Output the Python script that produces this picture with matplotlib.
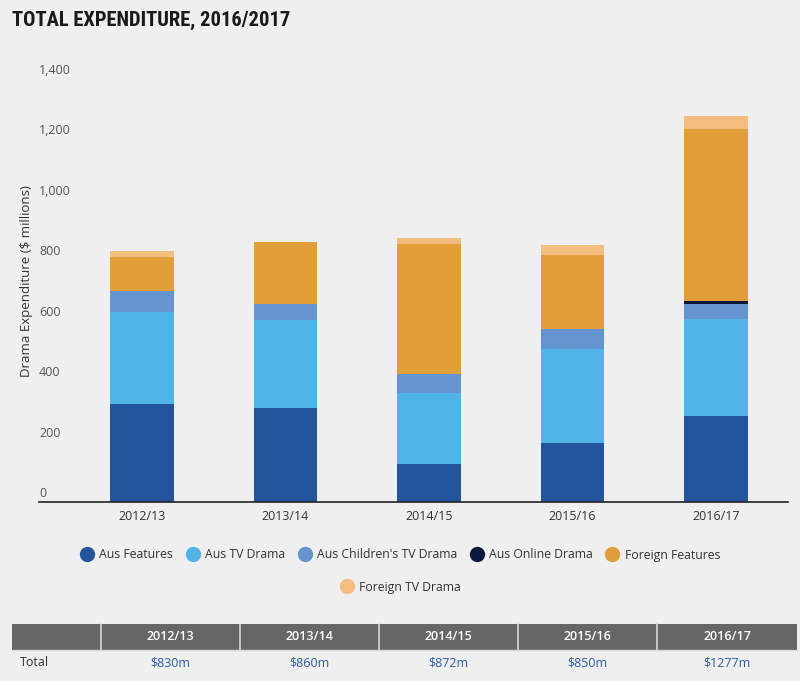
import numpy as np
import matplotlib.pyplot as plt
from matplotlib.lines import Line2D
from matplotlib.patches import Rectangle

years = ["2012/13", "2013/14", "2014/15", "2015/16", "2016/17"]
aus_features = [323, 310, 125, 194, 283]
aus_tv_drama = [306, 292, 235, 311, 322]
aus_children = [69, 54, 63, 66, 49]
aus_online = [0, 0, 0, 0, 11]
foreign_features = [111, 202, 430, 247, 568]
foreign_tv = [21, 2, 19, 32, 44]
totals = ["$830m", "$860m", "$872m", "$850m", "$1277m"]

series = [
    ("Aus Features", aus_features, "#22559c"),
    ("Aus TV Drama", aus_tv_drama, "#50b4e6"),
    ("Aus Children's TV Drama", aus_children, "#6495d0"),
    ("Aus Online Drama", aus_online, "#0b1a3a"),
    ("Foreign Features", foreign_features, "#e29e38"),
    ("Foreign TV Drama", foreign_tv, "#f3bd80"),
]
yticks = [0, 200, 400, 600, 800, 1000, 1200, 1400]

bg = "#efefef"
plt.rcParams['font.family'] = ['Open Sans', 'DejaVu Sans']

W, H = 800, 681
fig = plt.figure(figsize=(8, 6.81), dpi=100, facecolor=bg)

# plot area in pixels: x 39..788, y 0 at 502
ax = fig.add_axes([39 / W, 1 - 502 / H, (788 - 39) / W, (502 - 63.4) / H])
ax.set_facecolor(bg)

x = np.arange(len(years))
bottom = np.zeros(len(years))
for name, vals, col in series:
    v = np.array(vals, dtype=float)
    ax.bar(x, v, 0.44, bottom=bottom, color=col, edgecolor='none')
    bottom += v

ax.set_xlim(-0.718, 4.502)
ax.set_ylim(0, 1450)
for s in ["top", "right", "left"]:
    ax.spines[s].set_visible(False)
ax.spines["bottom"].set_color("#222222")
ax.spines["bottom"].set_linewidth(1.2)
ax.set_yticks([])
ax.set_xticks(x)
ax.set_xticklabels(years, fontsize=9, color="#333333")
ax.tick_params(axis='x', length=0, pad=6)

for t in yticks:
    ax.annotate(f"{t:,}", xy=(0, t), xycoords=('axes fraction', 'data'),
                xytext=(0, 6), textcoords='offset points',
                ha='left', va='center', fontsize=9, color="#555555")

fig.text(27 / W, 1 - 281 / H, "Drama Expenditure ($ millions)", rotation=90,
         ha='center', va='center', fontsize=9.5, color="#333333")

fig.text(12 / W, 1 - 20 / H, "TOTAL EXPENDITURE, 2016/2017",
         family=['DejaVu Sans Condensed', 'Liberation Sans Narrow', 'Roboto Condensed', 'Roboto'],
         fontweight='bold', fontstretch='condensed',
         fontsize=14.8, color="#1a1a1a", ha='left', va='center')

handles = [Line2D([], [], marker='o', linestyle='none', markersize=10,
                  markerfacecolor=col, markeredgecolor=col, label=name)
           for name, vals, col in series]
leg1 = fig.legend(handles=handles[:5], loc='center', bbox_to_anchor=(400 / W, 1 - 555 / H),
                  ncol=5, frameon=False, fontsize=8.8, handletextpad=0.4,
                  columnspacing=1.0, handlelength=1.2)
for t in leg1.get_texts():
    t.set_color("#333333")
leg2 = fig.legend(handles=handles[5:], loc='center', bbox_to_anchor=(400 / W, 1 - 587 / H),
                  ncol=1, frameon=False, fontsize=8.8, handletextpad=0.4,
                  handlelength=1.2)
for t in leg2.get_texts():
    t.set_color("#333333")

# summary table
tab = fig.add_axes([0, 0, 1, 1], zorder=-1)
tab.set_xlim(0, W)
tab.set_ylim(H, 0)
tab.axis('off')
bounds = [12, 101, 240, 379, 518, 657, 797]
tab.add_patch(Rectangle((12, 624), 797 - 12, 26, facecolor="#666666", edgecolor='none'))
for b in bounds[1:-1]:
    tab.plot([b, b], [624, 650], color="#d8d8d8", lw=1.2)
tab.plot([12, 797], [650, 650], color="#d8d8d8", lw=1)
for i, yr in enumerate(years):
    cx = (bounds[i + 1] + bounds[i + 2]) / 2
    tab.text(cx, 637, yr, ha='center', va='center', fontsize=9,
             color="white", fontweight='semibold')
    tab.text(cx, 663, totals[i], ha='center', va='center', fontsize=9,
             color="#2b5ca8")
tab.text(20, 663, "Total", ha='left', va='center', fontsize=9, color="#333333")

fig.savefig("out.png", dpi=100, facecolor=bg)
